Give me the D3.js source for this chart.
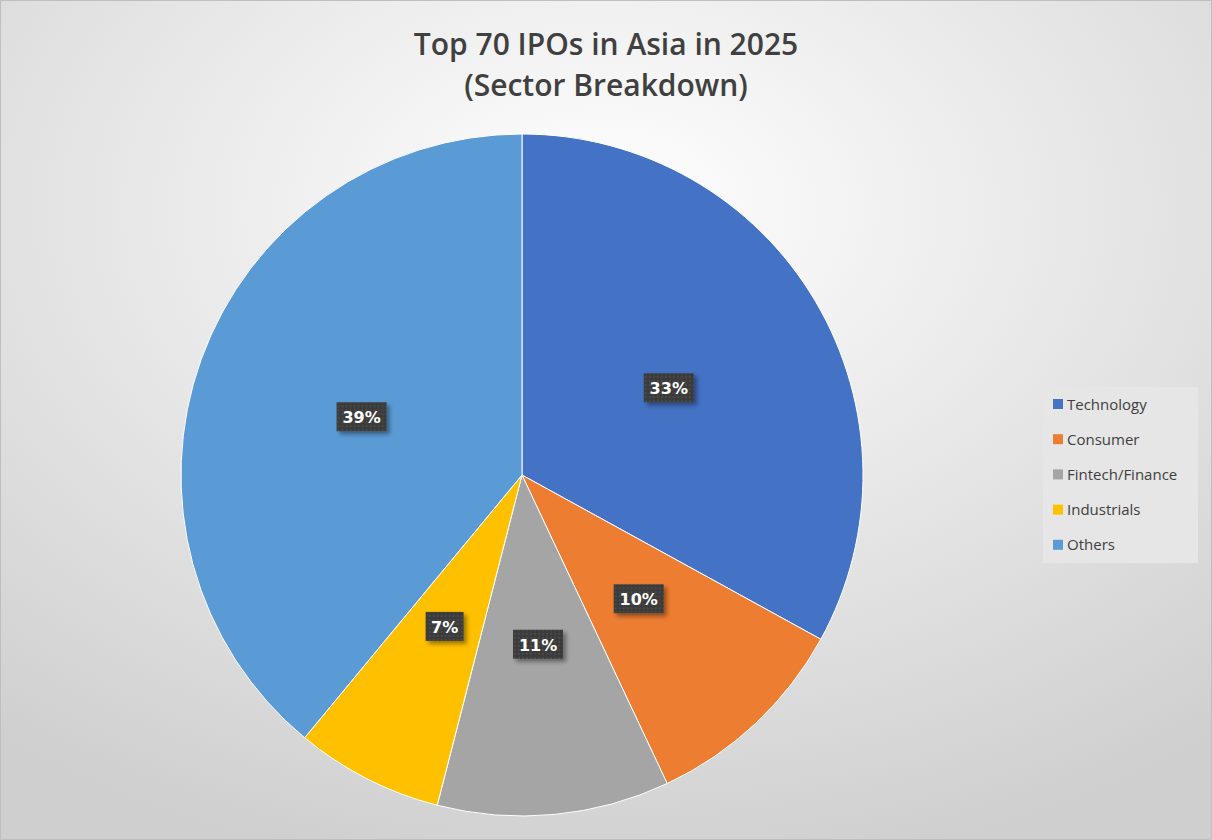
<!DOCTYPE html>
<html><head><meta charset="utf-8">
<script src="https://cdn.jsdelivr.net/npm/d3@7"></script>
<style>body{margin:0;}</style></head>
<body><svg id="c" width="1212" height="840"></svg>
<script>
const categories = ["Technology","Consumer","Fintech/Finance","Industrials","Others"];
const values = [33,10,11,7,39];
const colors = ["#4472C4","#ED7D31","#A5A5A5","#FFC000","#5B9BD5"];

const svg = d3.select("#c");
const defs = svg.append("defs");
const g = defs.append("radialGradient").attr("id","bg").attr("cx","50%").attr("cy","25%").attr("r","80%");
g.append("stop").attr("offset","0%").attr("stop-color","#ffffff");
g.append("stop").attr("offset","100%").attr("stop-color","#cfcfcf");
const pat = defs.append("pattern").attr("id","pt").attr("width",4).attr("height",4).attr("patternUnits","userSpaceOnUse");
pat.append("rect").attr("width",4).attr("height",4).attr("fill","#3a3a3a");
pat.append("rect").attr("width",2).attr("height",2).attr("fill","#4a4a4a");
const f = defs.append("filter").attr("id","sh").attr("x","-30%").attr("y","-30%").attr("width","170%").attr("height","170%");
f.append("feDropShadow").attr("dx",3).attr("dy",3).attr("stdDeviation",2).attr("flood-color","#000").attr("flood-opacity",0.4);

svg.append("rect").attr("x",0.5).attr("y",0.5).attr("width",1211).attr("height",839).attr("fill","url(#bg)").attr("stroke","#bfbfbf");

svg.append("text").attr("x",606).attr("y",55).attr("text-anchor","middle").attr("font-family","Open Sans, sans-serif").attr("font-weight",600).attr("font-size",30).attr("fill","#404040").text("Top 70 IPOs in Asia in 2025");
svg.append("text").attr("x",606).attr("y",96).attr("text-anchor","middle").attr("font-family","Open Sans, sans-serif").attr("font-weight",600).attr("font-size",30).attr("fill","#404040").text("(Sector Breakdown)");

const cx=522, cy=475, R=341;
const pie = d3.pie().sort(null).value(d=>d);
const arcs = pie(values);
const arc = d3.arc().innerRadius(0).outerRadius(R);
const pg = svg.append("g").attr("transform",`translate(${cx},${cy})`);
pg.selectAll("path").data(arcs).join("path").attr("d",arc).attr("fill",(d,i)=>colors[i]).attr("stroke","#fff").attr("stroke-width",1);

const lab = d3.arc().innerRadius(0).outerRadius(R);
arcs.forEach((d,i)=>{
  const [x,y]=lab.centroid(d);
  const t = values[i]+"%";
  const w = t.length>2?50:38;
  const lg = pg.append("g").attr("transform",`translate(${x},${y})`);
  lg.append("rect").attr("x",-w/2).attr("y",-15).attr("width",w).attr("height",29).attr("fill","url(#pt)").attr("filter","url(#sh)");
  lg.append("text").attr("text-anchor","middle").attr("y",6).attr("font-family","DejaVu Sans, sans-serif").attr("font-weight","bold").attr("font-size",16).attr("fill","#fff").text(t);
});

const leg = svg.append("g");
leg.append("rect").attr("x",1043).attr("y",387).attr("width",155).attr("height",176).attr("fill","#e6e6e6");
categories.forEach((c,i)=>{
  const y=404+i*35.2;
  leg.append("rect").attr("x",1053).attr("y",y-5).attr("width",10).attr("height",10).attr("fill",colors[i]);
  leg.append("text").attr("x",1067).attr("y",y+5.5).attr("font-family","Open Sans, sans-serif").attr("font-size",15).attr("fill","#404040").text(c);
});
</script></body></html>
